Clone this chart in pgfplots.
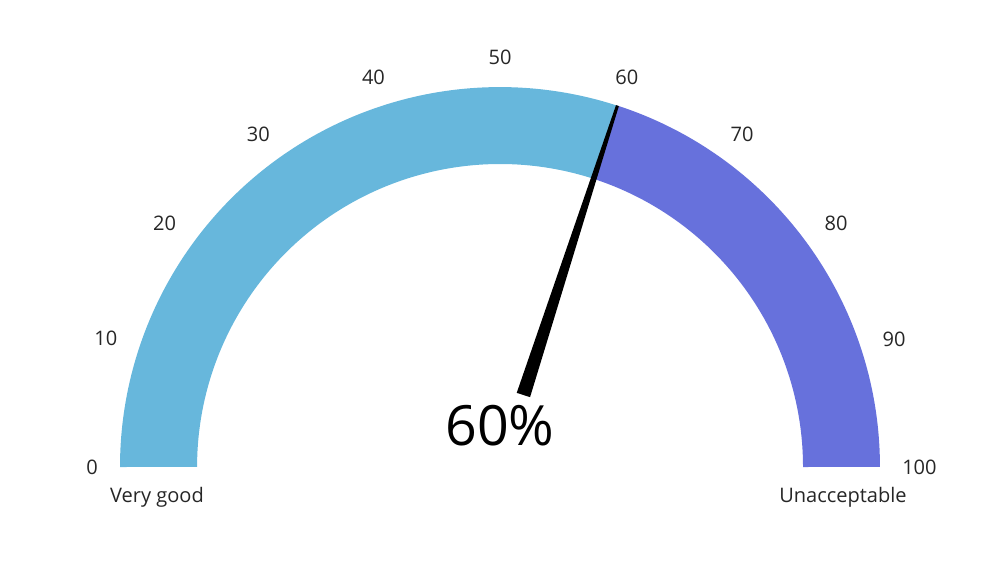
\documentclass[border=0pt]{standalone}
\usepackage{pgfplots}
\pgfplotsset{compat=1.18}
\usepackage{fontspec}
\setmainfont{Open Sans}

\definecolor{bandgood}{HTML}{67B7DC}
\definecolor{bandbad}{HTML}{6771DC}

% gauge: value 60 -> needle angle 180-1.8*60 = 72 deg
% radii in px-units: outer 380, inner 303 (1 unit = 0.02cm)

\begin{document}
\begin{tikzpicture}
\begin{axis}[
  x=0.02cm, y=0.02cm,
  xmin=-500, xmax=500,
  ymin=-95, ymax=467,
  hide axis, clip=false,
]
% keep the whole canvas as bounding box
\path (axis cs:-500,-95) rectangle (axis cs:500,467);

% band "Very good" 0 -> 60
\fill[bandgood] (axis cs:-380,0) arc[start angle=180, end angle=72, radius=7.6cm]
  -- (axis cs:93.63,288.17) arc[start angle=72, end angle=180, radius=6.06cm] -- cycle;
% band "Unacceptable" 60 -> 100
\fill[bandbad] (axis cs:117.43,361.40) arc[start angle=72, end angle=0, radius=7.6cm]
  -- (axis cs:303,0) arc[start angle=0, end angle=72, radius=6.06cm] -- cycle;

% needle at 60
\addplot[fill=black, draw=none] coordinates {
  (16.73,74.16) (30.05,69.84) (118.86,360.94) (116.00,361.86)
} -- cycle;

\node[anchor=base, font=\fontsize{31.6}{32}\selectfont] at (axis cs:0,22) {60\%};
\node[anchor=base, font=\fontsize{11.4}{13}\selectfont, text=black!85] at (axis cs:-343,-35) {Very good};
\node[anchor=base, font=\fontsize{11.4}{13}\selectfont, text=black!85] at (axis cs:343,-35) {Unacceptable};

\coordinate (c) at (axis cs:0,0);
\end{axis}

\begin{scope}[shift={(c)}]
\foreach \v in {0,10,...,100}{
  \pgfmathsetmacro\a{180-1.8*\v}
  \pgfmathtruncatemacro\b{360-1.8*\v}
  \node[anchor=\b, inner sep=0pt, font=\fontsize{11.4}{13}\selectfont, text=black!85] at (\a:8.04cm) {\v};
}
\end{scope}
\end{tikzpicture}
\end{document}
